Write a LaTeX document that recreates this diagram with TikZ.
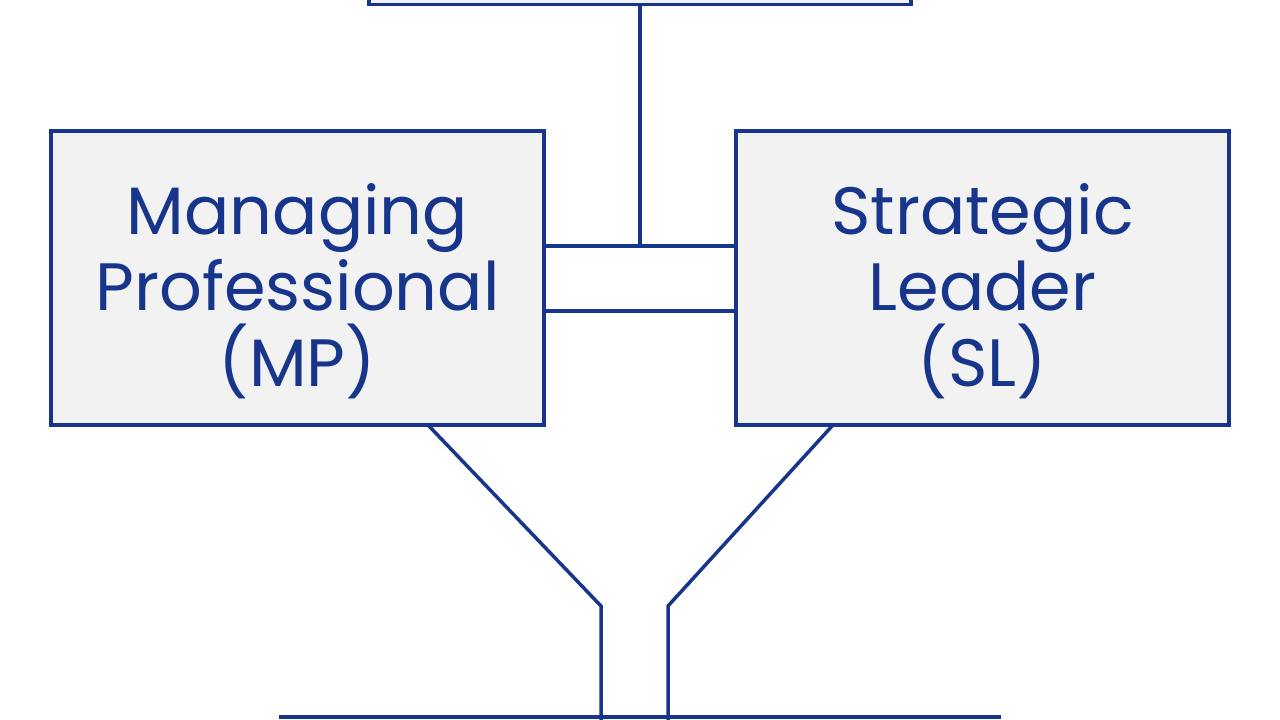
\documentclass[tikz,border=0pt]{standalone}
\usepackage{fontspec}
\setmainfont{Poppins}
\definecolor{navy}{HTML}{17358A}
\definecolor{boxfill}{HTML}{F2F2F2}
\begin{document}
\begin{tikzpicture}[x=1pt,y=-1pt,
  box/.style={draw=navy,line width=3.5pt,fill=boxfill,minimum width=493pt,minimum height=294pt,inner sep=0pt},
  lbl/.style={text=navy,font=\fontsize{67}{76}\selectfont,align=center},
  conn/.style={draw=navy,line width=3.5pt}]
\useasboundingbox (0,0) rectangle (1280,720);
\node[box,minimum width=542pt,minimum height=60pt,anchor=south] (top) at (640,6) {};
\node[box] (mp) at (297.5,278) {};
\node[box] (sl) at (982.5,278) {};
\node[lbl] (mpt) at (297.5,291) {Managing\\Professional\\(MP)};
\node[lbl] (slt) at (982.5,291) {Strategic\\Leader\\(SL)};
\coordinate (j) at (640,246);
\draw[conn] (top.south) -- (j);
\draw[conn] (mp.east |- 0,246) -- (sl.west |- 0,246);
\draw[conn] (mp.east |- 0,311) -- (sl.west |- 0,311);
\coordinate (a1) at (428,425);
\coordinate (b1) at (833,425);
\draw[conn] (a1) -- (601,606) -- (601,722);
\draw[conn] (b1) -- (668,606) -- (668,722);
\coordinate (bl) at (279,717);
\coordinate (br) at (1001,717);
\draw[conn] (bl) -- (br);
\end{tikzpicture}
\end{document}
